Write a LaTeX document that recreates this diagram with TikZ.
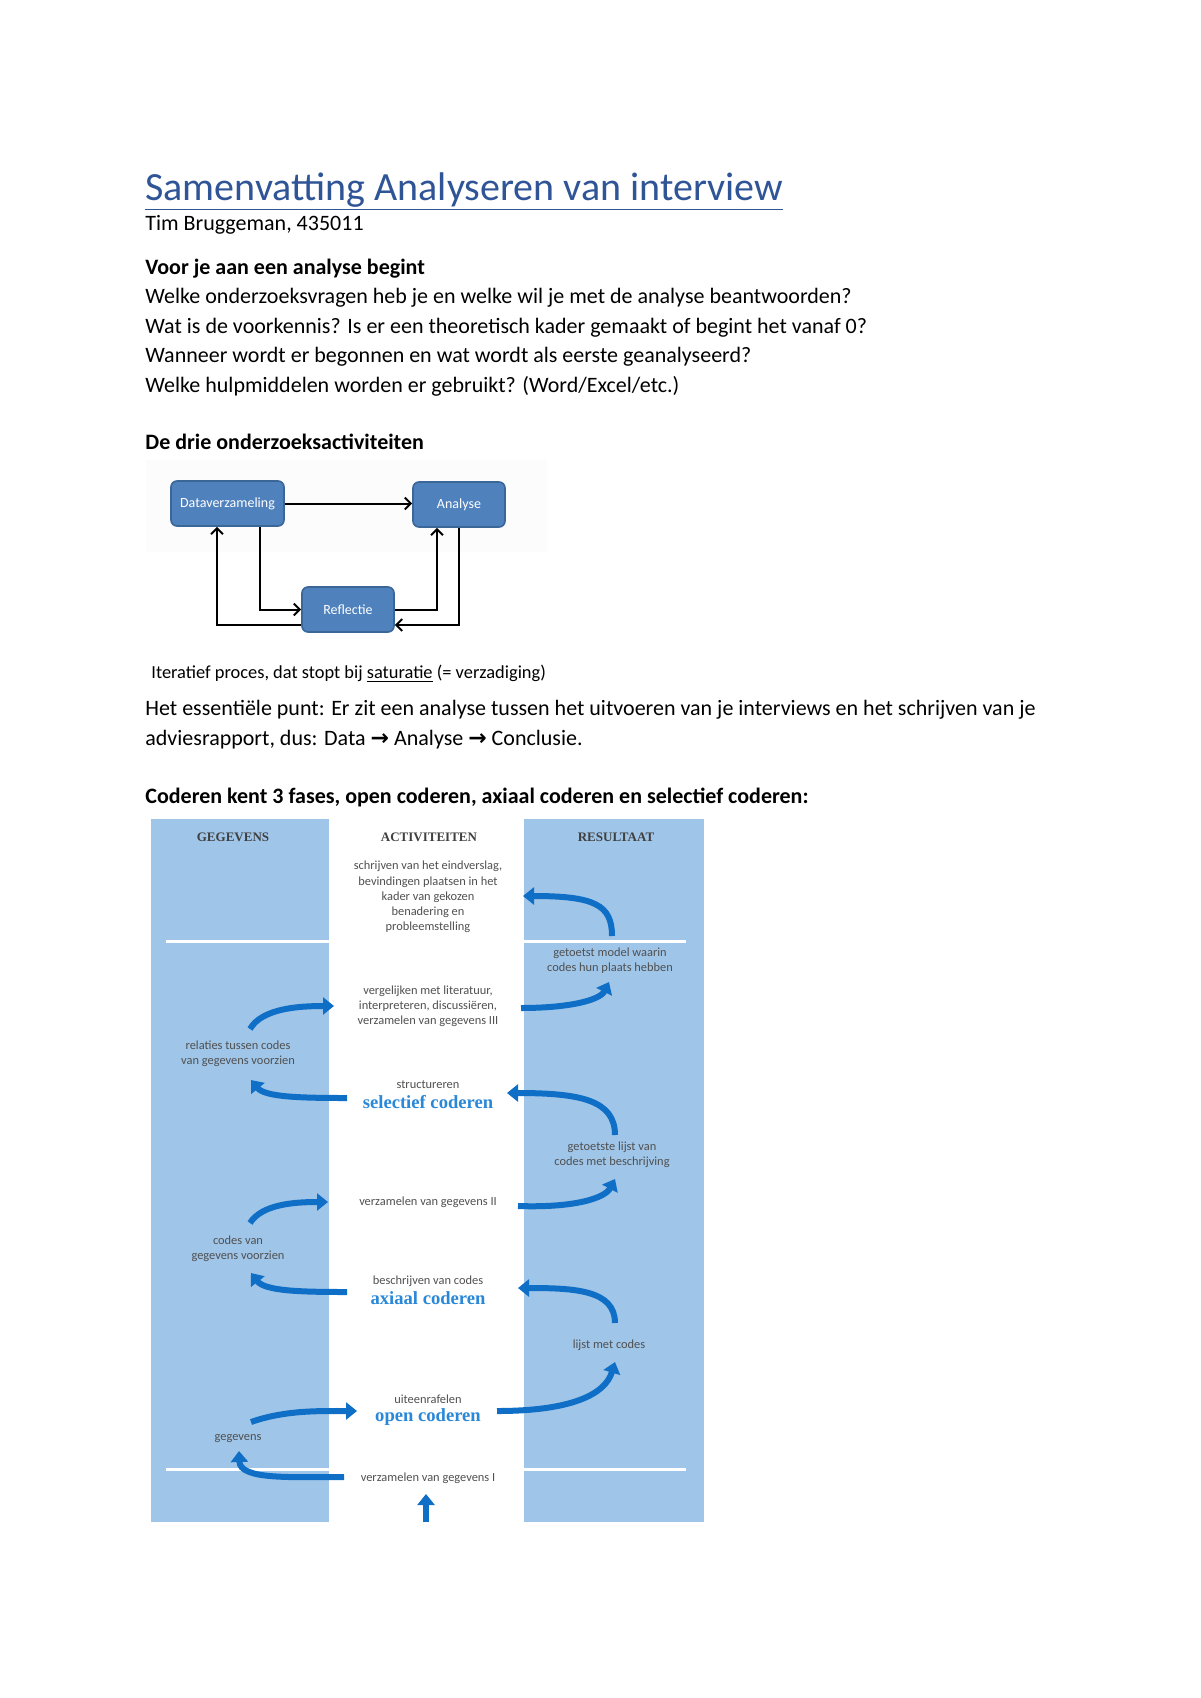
\documentclass[tikz,border=0pt]{standalone}
\usepackage{fontspec}
\setmainfont{Carlito}
\newfontfamily\serifhead{Liberation Serif}
\newfontfamily\arrowfont{DejaVu Sans}
\usetikzlibrary{arrows.meta,positioning,calc}

\definecolor{titleblue}{HTML}{2F5597}
\definecolor{boxfill}{HTML}{4F81BD}
\definecolor{boxedge}{HTML}{3A6698}
\definecolor{colblue}{HTML}{9FC5E8}
\definecolor{arrowblue}{HTML}{0F6FC6}
\definecolor{codeblue}{HTML}{2A88D8}
\definecolor{notegray}{HTML}{505050}

\tikzset{
  bodytext/.style={anchor=base west, inner sep=0pt, font=\fontsize{11}{13}\selectfont},
  procbox/.style={draw=boxedge, line width=0.8pt, fill=boxfill, rounded corners=3pt,
    text=white, font=\fontsize{7}{8}\selectfont, minimum height=22.5pt},
  loopline/.style={line width=1pt, -{Straight Barb[length=3pt,width=6pt]}},
  colhead/.style={font=\serifhead\bfseries\fontsize{6.5}{7}\selectfont, text=black!75, inner sep=0pt},
  note/.style={align=center, text=notegray, font=\fontsize{6.2}{7.6}\selectfont, inner sep=0pt},
  phase/.style={text=codeblue, font=\serifhead\bfseries\fontsize{9.3}{10}\selectfont, inner sep=0pt},
  codearrow/.style={draw=arrowblue, line width=3pt, -{Triangle[length=5.5pt,width=8.5pt]}},
}

\begin{document}
\begin{tikzpicture}[x=0.5pt,y=-0.5pt]
\useasboundingbox (0,0) rectangle (1200,1698);
\fill[white] (0,0) rectangle (1200,1698);

% title and intro text
\node[bodytext, font=\fontsize{20}{24}\selectfont, text=titleblue] (title) at (145,200) {\underline{Samenvatting Analyseren van interview}};
\node[bodytext] (author) at (145,230) {Tim Bruggeman, 435011};
\node[bodytext, font=\fontsize{11}{13}\selectfont\bfseries] (head1) at (145,274) {Voor je aan een analyse begint};
\node[bodytext] (q1) at (145,303) {Welke onderzoeksvragen heb je en welke wil je met de analyse beantwoorden?};
\node[bodytext] (q2) at (145,333) {Wat is de voorkennis? Is er een theoretisch kader gemaakt of begint het vanaf 0?};
\node[bodytext] (q3) at (145,362) {Wanneer wordt er begonnen en wat wordt als eerste geanalyseerd?};
\node[bodytext] (q4) at (145,392) {Welke hulpmiddelen worden er gebruikt? (Word/Excel/etc.)};
\node[bodytext, font=\fontsize{11}{13}\selectfont\bfseries] (head2) at (145,449) {De drie onderzoeksactiviteiten};

% three activities
\fill[black!1.2] (146,460) rectangle (547,552);
\node[procbox, minimum width=56.5pt] (dv) at (227.5,503.5) {Dataverzameling};
\node[procbox, minimum width=46pt] (an) at (459,504.5) {Analyse};
\node[procbox, minimum width=46pt] (rf) at (348,609.5) {Reflectie};
\draw[loopline] (dv.east) -- (dv.east -| an.west);
\draw[loopline] ([xshift=16pt]dv.south) |- (rf.west);
\draw[loopline] ([yshift=-7.75pt]rf.west) -| ([xshift=-5.25pt]dv.south);
\draw[loopline] (rf.east) -| ([xshift=-11pt]an.south);
\draw[loopline] (an.south) |- ([yshift=-7.75pt]rf.east);

\node[bodytext, font=\fontsize{9.2}{11}\selectfont] (iter) at (151,678) {Iteratief proces, dat stopt bij \underline{saturatie} (= verzadiging)};
\node[bodytext] (ess1) at (145,715) {Het essentiële punt: Er zit een analyse tussen het uitvoeren van je interviews en het schrijven van je};
\node[bodytext] (ess2) at (145,745) {adviesrapport, dus: Data {\arrowfont\bfseries →} Analyse {\arrowfont\bfseries →} Conclusie.};
\node[bodytext, font=\fontsize{11}{13}\selectfont\bfseries] (head3) at (145,803) {Coderen kent 3 fases, open coderen, axiaal coderen en selectief coderen:};

% coding scheme: columns
\fill[colblue] (151,819) rectangle (329,1522);
\fill[colblue] (524,819) rectangle (704,1522);
\foreach \y in {941,1469} {
  \draw[white, line width=1.5pt] (166,\y) -- (329,\y) (524,\y) -- (686,\y);
}
\node[colhead] (hgeg) at (233,837) {GEGEVENS};
\node[colhead] (hact) at (429,837) {ACTIVITEITEN};
\node[colhead] (hres) at (616,837) {RESULTAAT};

% middle column
\node[note] (eind) at (428,897) {schrijven van het eindverslag,\\bevindingen plaatsen in het\\kader van gekozen\\benadering en\\probleemstelling};
\node[note] (verg) at (428,1006) {vergelijken met literatuur,\\interpreteren, discussiëren,\\verzamelen van gegevens III};
\node[note] (struc) at (428,1085) {structureren};
\node[phase] (sel) at (428,1102) {selectief coderen};
\node[note] (verz2) at (428,1202) {verzamelen van gegevens II};
\node[note] (besch) at (428,1281) {beschrijven van codes};
\node[phase] (axi) at (428,1298) {axiaal coderen};
\node[note] (uiteen) at (428,1399) {uiteenrafelen};
\node[phase] (open) at (428,1417) {open coderen};
\node[note] (verz1) at (428,1478) {verzamelen van gegevens I};

% left column
\node[note] (rel) at (238,1053.5) {relaties tussen codes\\van gegevens voorzien};
\node[note] (cvg) at (238,1249) {codes van\\gegevens voorzien};
\node[note] (geg) at (238,1439) {gegevens};

% right column
\node[note] (model) at (610,960.5) {getoetst model waarin\\codes hun plaats hebben};
\node[note] (tlijst) at (612,1155) {getoetste lijst van\\codes met beschrijving};
\node[note] (lijst) at (609,1345) {lijst met codes};

% arrow ends
\coordinate (r1s) at (612,936);  \coordinate (r1e) at (523,896);
\coordinate (r2s) at (521,1008); \coordinate (r2e) at (609,982);
\coordinate (r3s) at (615,1135); \coordinate (r3e) at (507,1093);
\coordinate (r4s) at (518,1206); \coordinate (r4e) at (615,1179);
\coordinate (r5s) at (615,1323); \coordinate (r5e) at (518,1288);
\coordinate (r6s) at (497,1411); \coordinate (r6e) at (615,1362);
\coordinate (l1s) at (250,1029); \coordinate (l1e) at (334,1006);
\coordinate (l2s) at (347,1098); \coordinate (l2e) at (251,1080);
\coordinate (l3s) at (250,1223); \coordinate (l3e) at (328,1202);
\coordinate (l4s) at (347,1292); \coordinate (l4e) at (251,1273);
\coordinate (l5s) at (251,1422); \coordinate (l5e) at (357,1411);
\coordinate (l6s) at (344,1477); \coordinate (l6e) at (239,1451);
\coordinate (bots) at (426,1522); \coordinate (bote) at (426,1494);

% right arrows
\draw[codearrow] (r1s) .. controls (612,905) and (595,896) .. (r1e);
\draw[codearrow] (r2s) .. controls (570,1008) and (600,1000) .. (r2e);
\draw[codearrow] (r3s) .. controls (615,1100) and (580,1093) .. (r3e);
\draw[codearrow] (r4s) .. controls (575,1208) and (605,1198) .. (r4e);
\draw[codearrow] (r5s) .. controls (615,1290) and (575,1288) .. (r5e);
\draw[codearrow] (r6s) .. controls (570,1411) and (605,1395) .. (r6e);
% left arrows
\draw[codearrow] (l1s) .. controls (262,1008) and (300,1006) .. (l1e);
\draw[codearrow] (l2s) .. controls (300,1098) and (265,1097) .. (l2e);
\draw[codearrow] (l3s) .. controls (262,1204) and (295,1202) .. (l3e);
\draw[codearrow] (l4s) .. controls (300,1292) and (265,1291) .. (l4e);
\draw[codearrow] (l5s) .. controls (285,1410) and (320,1411) .. (l5e);
\draw[codearrow] (l6s) .. controls (290,1477) and (240,1480) .. (l6e);
\draw[codearrow] (bots) -- (bote);
\end{tikzpicture}
\end{document}
